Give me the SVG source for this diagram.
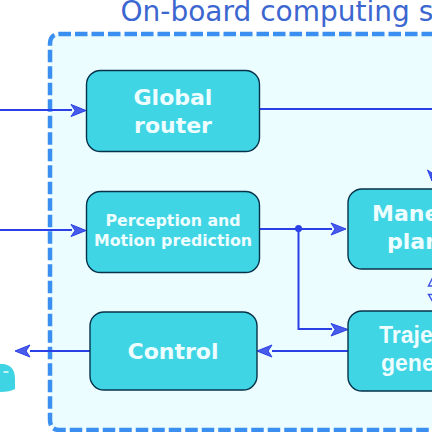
<svg xmlns="http://www.w3.org/2000/svg" width="432" height="432" viewBox="0 0 432 432">
<style>
.n{fill:#40d5e4;stroke:#06324a;stroke-width:1.4}
.t{font-family:"DejaVu Sans",sans-serif;font-weight:700;fill:#eefdff;text-anchor:middle}
.s{text-anchor:start}
.l{font-family:"Liberation Sans",sans-serif}
.c{fill:none;stroke:#2a3fe6;stroke-width:2}
.a{fill:#2a3fe6;fill-opacity:.85;stroke:#2a3fe6;stroke-width:1}
.h{fill:#ebfdff;stroke:#3a50e0;stroke-width:1.4}
</style>
<rect width="432" height="432" fill="#fff"/>
<path d="M434 34H60Q50 34 50 44V420Q50 430 60 430H434Z" fill="#ebfdff"/>
<path id="frame" d="M434 34H60Q50 34 50 44V420Q50 430 60 430H434" fill="none" stroke="#3b8ff0" stroke-width="4.5" stroke-dasharray="12.5 4"/>
<text id="title" x="120.500" y="21" font-family="'DejaVu Sans',sans-serif" font-size="28" fill="#3c66d0">On-board computing s</text>
<g id="connectors">
<path class="c" d="M0 110H72M260 109H432M0 230H72M260 229H332M298.500 229V329H332M90 351H30M348 351H272"/>
<circle cx="298.500" cy="228.500" r="3.500" fill="#2a3fe6"/>
<path class="a" d="M86 110.500L71 104.500L75 110.500L71 116.500Z"/>
<path class="a" d="M86 230.500L71 224.500L75 230.500L71 236.500Z"/>
<path class="a" d="M346 229L331 223L335 229L331 235Z"/>
<path class="a" d="M348 329.500L331 323.500L335 329.500L331 336Z"/>
<path class="a" d="M257 351L272 345L268 351L272 357Z"/>
<path class="a" d="M15 351L30 345L26 351L30 357Z"/>
<path class="a" d="M427.500 170L432 181V173Z"/>
<path class="h" d="M433 277L428.500 286H433Z"/>
<path class="h" d="M433 302L428.500 294.500H433Z"/>
</g>
<g id="global-router"><rect class="n" x="86.500" y="70.500" width="173" height="81" rx="14"/><text class="t" font-size="22" x="173" y="105">Global</text><text class="t" font-size="22" x="173" y="133">router</text></g>
<g id="perception"><rect class="n" x="86.500" y="191.500" width="173" height="81" rx="14"/><text class="t" font-size="15.800" x="173" y="226">Perception and</text><text class="t" font-size="15.800" x="173" y="246">Motion prediction</text></g>
<g id="control"><rect class="n" x="90" y="312" width="167" height="78" rx="14"/><text class="t" font-size="22" x="173" y="359">Control</text></g>
<g id="maneuver"><rect class="n" x="348" y="189" width="100" height="80" rx="14"/><text class="t s" font-size="22" x="372" y="221">Mane</text><text class="t s" font-size="22" x="387" y="249">plan</text></g>
<g id="trajectory"><rect class="n" x="348" y="311" width="100" height="80" rx="14"/><text class="t s l" font-size="23" x="379" y="343">Traje</text><text class="t s l" font-size="23" x="381" y="371">gene</text></g>
<g id="vehicle"><path d="M0 364H4Q15 366 15 379V389Q10 392 0 392Z" fill="#3fd4e3"/><path d="M3.500 372H8.500" stroke="#eefdff" stroke-width="1.500"/></g>
</svg>
